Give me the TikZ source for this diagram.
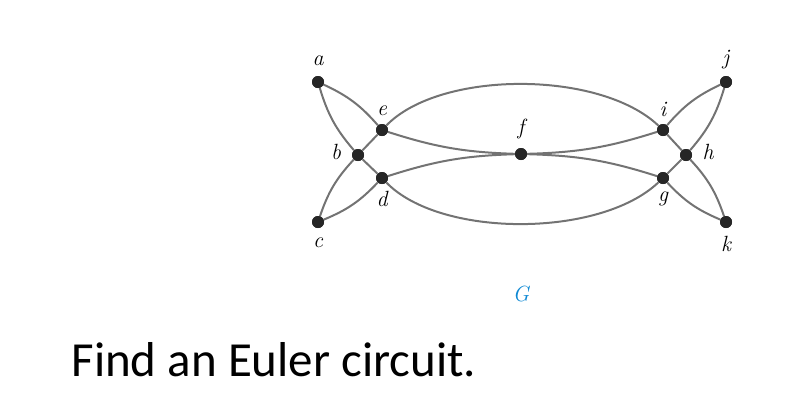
\documentclass[tikz,border=0pt]{standalone}
\usepackage{fontspec}
\newfontfamily\carl{Carlito}
\begin{document}
\begin{tikzpicture}[x=1pt,y=-1pt,
 vtx/.style={circle,fill=black!85,inner sep=0pt,minimum size=12pt},
 lbl/.style={font=\itshape\fontsize{22}{22}\selectfont},
 edge/.style={draw=black!55,line width=2pt}]
\useasboundingbox (0,0) rectangle (805,400);
\node[vtx] (a) at (318,82) {};
\node[vtx] (b) at (358,155) {};
\node[vtx] (c) at (318,222) {};
\node[vtx] (e) at (382,130) {};
\node[vtx] (d) at (382,178) {};
\node[vtx] (f) at (521,154) {};
\node[vtx] (i) at (663,130) {};
\node[vtx] (h) at (686,155) {};
\node[vtx] (g) at (663,178) {};
\node[vtx] (j) at (726,82) {};
\node[vtx] (k) at (726,222) {};
\node[lbl] at (318,61) {a};
\node[lbl] at (336,152) {b};
\node[lbl] at (318,243) {c};
\node[lbl] at (382,111) {e};
\node[lbl] at (382,199) {d};
\node[lbl] at (521,129) {f};
\node[lbl] at (663,109) {i};
\node[lbl] at (708,152) {h};
\node[lbl] at (663,199) {g};
\node[lbl] at (726,60) {j};
\node[lbl] at (726,244) {k};
\node[font=\itshape\fontsize{22}{22}\selectfont,text=cyan!70!blue] (G) at (521,294) {G};
\node[font=\carl\fontsize{49}{49}\selectfont,anchor=base west] (t) at (68,376) {Find an Euler circuit.};
\draw[edge] (a) to[bend left=12] (e);
\draw[edge] (a) to[bend right=12] (b);
\draw[edge] (c) to[bend left=12] (b);
\draw[edge] (c) to[bend right=12] (d);
\draw[edge] (b) -- (e);
\draw[edge] (b) -- (d);
\draw[edge] (e) .. controls (440,70) and (600,70) .. (i);
\draw[edge] (d) .. controls (440,238) and (600,238) .. (g);
\draw[edge] (e) to[bend right=8] (f);
\draw[edge] (d) to[bend left=8] (f);
\draw[edge] (f) to[bend right=8] (i);
\draw[edge] (f) to[bend left=8] (g);
\draw[edge] (i) -- (h);
\draw[edge] (g) -- (h);
\draw[edge] (j) to[bend right=12] (i);
\draw[edge] (j) to[bend left=12] (h);
\draw[edge] (k) to[bend left=12] (g);
\draw[edge] (k) to[bend right=12] (h);
\foreach \n in {a,b,c,d,e,f,g,h,i,j,k} \fill[black!85] (\n) circle (6pt);
\end{tikzpicture}
\end{document}
